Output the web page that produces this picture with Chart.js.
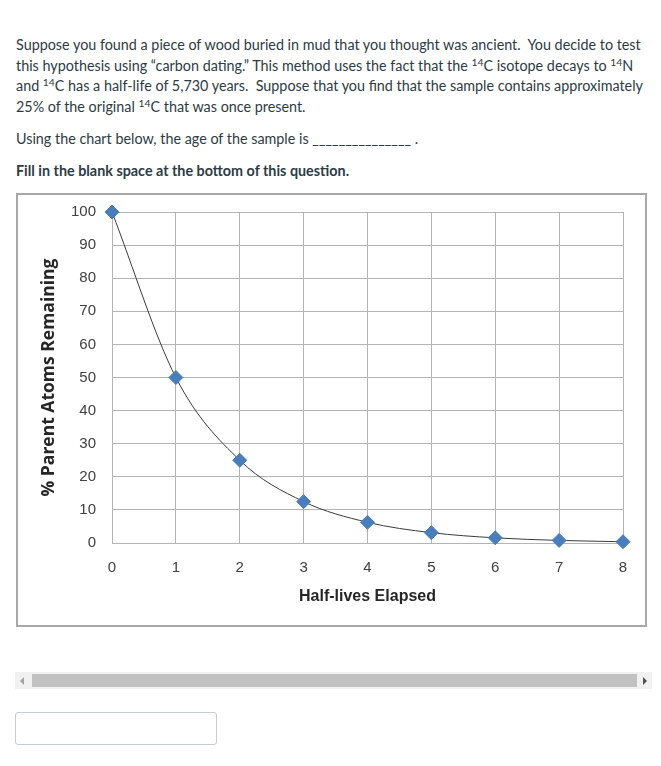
<!DOCTYPE html>
<html>
<head>
<meta charset="utf-8">
<script src="https://cdn.jsdelivr.net/npm/chart.js@4"></script>
<style>
  body { margin: 0; background: #fff; font-family: Lato, "Noto Sans", sans-serif; color: #2d3b45; }
  .q { position: absolute; left: 16px; top: 35px; font-size: 14.35px; line-height: 20.6px; white-space: nowrap; }
  .q p { margin: 0 0 12px 0; }
  .q p.last { margin-top: -1px; }
  sup { font-size: 0.72em; line-height: 0; vertical-align: 0.5em; }
  .box { position: absolute; left: 16px; top: 193px; width: 631px; height: 434px; border: 2px solid #a8a8a8; box-sizing: border-box; }
  .box canvas { position: absolute; left: 0; top: 0; }
  .track { position: absolute; left: 15px; top: 672px; width: 637px; height: 17px; background: #f1f1f1; }
  .thumb { position: absolute; left: 17px; top: 2px; width: 605px; height: 13px; background: #c1c1c1; }
  .arr { position: absolute; top: 5px; width: 0; height: 0; border-top: 4px solid transparent; border-bottom: 4px solid transparent; }
  .arr.l { left: 5px; border-right: 4px solid #a3a3a3; }
  .arr.r { right: 5px; border-left: 4px solid #505050; }
  .inp { position: absolute; left: 15px; top: 712px; width: 202px; height: 33px; border: 1px solid #c7cdd1; border-radius: 3px; box-sizing: border-box; }
</style>
</head>
<body>
<div class="q">
  <p>Suppose you found a piece of wood buried in mud that you thought was ancient.&nbsp; You decide to test<br>this hypothesis using “carbon dating.” This method uses the fact that the <sup>14</sup>C isotope decays to <sup>14</sup>N<br>and <sup>14</sup>C has a half-life of 5,730 years.&nbsp; Suppose that you find that the sample contains approximately<br>25% of the original <sup>14</sup>C that was once present.</p>
  <p>Using the chart below, the age of the sample is _______________ .</p>
  <p class="last"><b>Fill in the blank space at the bottom of this question.</b></p>
</div>

<div class="box"><canvas id="decay" width="627" height="430"></canvas></div>

<div class="track"><div class="arr l"></div><div class="thumb"></div><div class="arr r"></div></div>
<div class="inp"></div>

<script>
const halfLives = [0, 1, 2, 3, 4, 5, 6, 7, 8];
const percentRemaining = [100, 50, 25, 12.5, 6.25, 3.125, 1.56, 0.78, 0.39];
const yTicks = [0, 10, 20, 30, 40, 50, 60, 70, 80, 90, 100];

const gridColor = '#b4b4b4';
const tickFont = { family: 'Liberation Sans, Arial, sans-serif', size: 15 };

new Chart(document.getElementById('decay'), {
    type: 'line',
    data: {
        datasets: [{
            label: '% Parent Atoms Remaining',
            data: halfLives.map((x, i) => ({ x: x, y: percentRemaining[i] })),
            borderColor: '#3a3a3a',
            borderWidth: 1,
            cubicInterpolationMode: 'monotone',
            pointStyle: 'rectRot',
            pointRadius: 7,
            pointHoverRadius: 7,
            pointBackgroundColor: '#4a7ebb',
            pointBorderColor: '#4a7ebb',
            pointBorderWidth: 1,
            clip: false
        }]
    },
    options: {
        responsive: false,
        animation: false,
        layout: { autoPadding: false, padding: { top: 17, right: 22, left: 0, bottom: 0 } },
        plugins: { legend: { display: false }, tooltip: { enabled: false } },
        scales: {
            x: {
                type: 'linear',
                min: 0,
                max: 8,
                ticks: { stepSize: 1, color: '#404040', font: tickFont, padding: 16 },
                grid: { color: gridColor, drawTicks: false },
                border: { color: gridColor },
                title: {
                    display: true,
                    text: 'Half-lives Elapsed',
                    color: '#262626',
                    font: { family: 'Liberation Sans Narrow, Liberation Sans, Arial, sans-serif', size: 16, weight: 'bold' },
                    padding: { top: 0, bottom: 19 }
                },
                afterFit: s => { s.height = 82; }
            },
            y: {
                min: 0,
                max: 100,
                afterBuildTicks: s => { s.ticks = yTicks.map(v => ({ value: v })); },
                // gap to the labels comes from invisible tick marks, so the top padding stays small
                ticks: { color: '#404040', font: tickFont, padding: 0 },
                grid: { color: gridColor, drawTicks: true, tickLength: 16, tickColor: 'rgba(0,0,0,0)' },
                border: { color: gridColor },
                title: {
                    display: true,
                    text: '% Parent Atoms Remaining',
                    color: '#262626',
                    font: { family: 'Open Sans, Liberation Sans, Arial, sans-serif', size: 17.5, weight: 'bold' },
                    padding: { top: 21, bottom: 0 }
                },
                afterFit: s => { s.width = 94; }
            }
        }
    }
});
</script>
</body>
</html>
